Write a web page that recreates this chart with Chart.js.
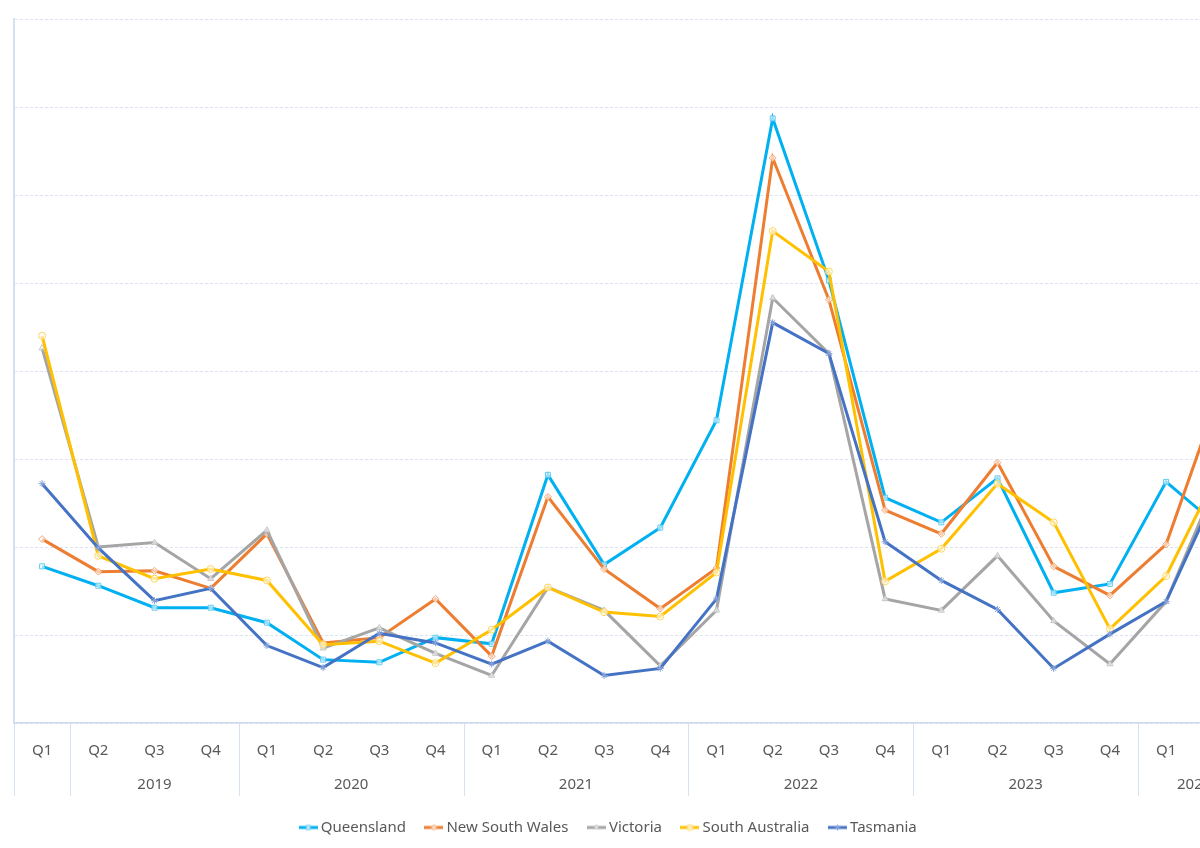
<!DOCTYPE html>
<html>
<head>
<meta charset="utf-8">
<script src="https://cdn.jsdelivr.net/npm/chart.js@4.4.1/dist/chart.umd.min.js"></script>
<style>
  html, body { margin: 0; padding: 0; background: #fff; overflow: hidden; }
  #wrap { width: 1206px; height: 848px; }
</style>
</head>
<body>
<div id="wrap"><canvas id="chart"></canvas></div>
<script>
const quarters = [
  'Q1', 'Q2', 'Q3', 'Q4', 'Q1', 'Q2', 'Q3', 'Q4', 'Q1', 'Q2', 'Q3',
  'Q4', 'Q1', 'Q2', 'Q3', 'Q4', 'Q1', 'Q2', 'Q3', 'Q4', 'Q1', 'Q2',
];
const yearLabels = ['', '2019', '2020', '2021', '2022', '2023', '2024'];
const yearFirst = [0, 1, 4, 8, 12, 16, 20];
const yearLast = [0, 3, 7, 11, 15, 19, 21];

const queensland = [1.78, 1.56, 1.31, 1.31, 1.14, 0.72, 0.69, 0.97, 0.9, 2.82, 1.8, 2.22, 3.44, 6.87, 5.03, 2.56, 2.28, 2.78, 1.48, 1.58, 2.74, 2.2];
const newSouthWales = [2.09, 1.72, 1.73, 1.53, 2.15, 0.91, 0.97, 1.41, 0.76, 2.57, 1.75, 1.3, 1.76, 6.42, 4.81, 2.42, 2.15, 2.96, 1.78, 1.45, 2.03, 3.85];
const victoria = [4.26, 2.0, 2.05, 1.64, 2.19, 0.85, 1.08, 0.79, 0.54, 1.54, 1.28, 0.65, 1.28, 4.83, 4.2, 1.41, 1.28, 1.9, 1.16, 0.67, 1.38, 2.89];
const southAustralia = [4.4, 1.9, 1.64, 1.75, 1.62, 0.89, 0.93, 0.68, 1.06, 1.54, 1.26, 1.21, 1.71, 5.59, 5.13, 1.61, 1.98, 2.72, 2.28, 1.07, 1.67, 2.95];
const tasmania = [2.72, 1.99, 1.39, 1.53, 0.88, 0.63, 1.02, 0.91, 0.67, 0.93, 0.54, 0.62, 1.41, 4.55, 4.2, 2.06, 1.62, 1.29, 0.62, 1.01, 1.38, 2.77];

const seriesNames = ['Queensland', 'New South Wales', 'Victoria', 'South Australia', 'Tasmania'];
const seriesData = [queensland, newSouthWales, victoria, southAustralia, tasmania];
const seriesColors = ['#00b0f0', '#ed7d31', '#a5a5a5', '#ffc000', '#4472c4'];
const markerColors = ['#5fcaf3', '#f3a674', '#c4c4c4', '#ffd45c', '#8aa5db'];
const markerStyles = ['rect', 'rectRot', 'triangle', 'circle', 'star'];

const FONT = '"Noto Sans", "Open Sans", sans-serif';
const TEXT = '#595959';
const AXIS = '#d4e1f2';
const STEP = 56.2; // pixel width of one quarter, the plot runs past the right edge

function legendIcon(i) {
  const c = document.createElement('canvas');
  c.width = 19;
  c.height = 12;
  const g = c.getContext('2d');
  g.strokeStyle = seriesColors[i];
  g.lineWidth = 3;
  g.beginPath();
  g.moveTo(0, 6);
  g.lineTo(19, 6);
  g.stroke();
  g.fillStyle = 'rgba(255,255,255,0.7)';
  g.strokeStyle = markerColors[i];
  g.lineWidth = 1;
  Chart.helpers.drawPoint(g, { pointStyle: markerStyles[i], radius: 3, borderWidth: 1, rotation: 0 }, 9.5, 6);
  return c;
}
const icons = seriesNames.map((_, i) => legendIcon(i));

// year row under the quarter labels, with separators between the years
const yearRow = {
  id: 'yearRow',
  afterDraw(chart) {
    const xs = chart.scales.x;
    const ctx = chart.ctx;
    const top = xs.top;
    ctx.save();
    ctx.strokeStyle = AXIS;
    ctx.lineWidth = 1;
    yearFirst.forEach((f) => {
      const px = Math.round(xs.getPixelForValue(f - 0.5)) + 0.5;
      ctx.beginPath();
      ctx.moveTo(px, top);
      ctx.lineTo(px, top + 73);
      ctx.stroke();
    });
    ctx.fillStyle = TEXT;
    ctx.font = '15px ' + FONT;
    ctx.textAlign = 'center';
    ctx.textBaseline = 'middle';
    yearLabels.forEach((label, k) => {
      const px = xs.getPixelForValue((yearFirst[k] + yearLast[k]) / 2);
      ctx.fillText(label, px, top + 62);
    });
    ctx.restore();
  },
};

new Chart(document.getElementById('chart'), {
  type: 'line',
  data: {
    datasets: seriesNames.map((name, i) => ({
      label: name,
      data: seriesData[i].map((v, k) => ({ x: k, y: v })),
      borderColor: seriesColors[i],
      backgroundColor: seriesColors[i],
      borderWidth: 3,
      pointStyle: markerStyles[i],
      pointRadius: 3.5,
      pointBorderWidth: 1,
      pointBorderColor: markerColors[i],
      pointBackgroundColor: 'rgba(255,255,255,0.6)',
      tension: 0,
      order: seriesNames.length - i,
    })),
  },
  options: {
    responsive: true,
    maintainAspectRatio: false,
    animation: false,
    layout: { padding: { top: 19, left: 14, right: 0, bottom: 3 } },
    scales: {
      x: {
        type: 'linear',
        bounds: 'data',
        min: -0.5,
        grid: { display: false, drawTicks: false },
        border: { display: true, color: '#c9daf0', width: 1.5 },
        afterDataLimits: (scale) => {
          scale.max = scale.min + scale.width / STEP;
        },
        afterBuildTicks: (scale) => {
          scale.ticks = quarters.map((_, i) => ({ value: i })).filter((t) => t.value <= scale.max);
        },
        afterFit: (scale) => {
          scale.height = 74;
          scale.paddingLeft = 0;
          scale.paddingRight = 0;
        },
        ticks: {
          autoSkip: false,
          maxRotation: 0,
          padding: 19,
          color: TEXT,
          font: { family: FONT, size: 15 },
          callback: (v) => quarters[v],
        },
      },
      y: {
        min: 0,
        max: 8,
        ticks: { display: false, stepSize: 1 },
        grid: { color: '#dbe5f2', lineWidth: 1, drawTicks: false },
        border: { display: true, color: AXIS, width: 2, dash: [3, 2] },
      },
    },
    plugins: {
      tooltip: { enabled: false },
      legend: {
        position: 'bottom',
        labels: {
          usePointStyle: true,
          pointStyleWidth: 10,
          padding: 23,
          color: TEXT,
          font: { family: FONT, size: 15 },
          generateLabels: (chart) => chart.data.datasets.map((ds, i) => ({
            text: ds.label,
            pointStyle: icons[i],
            fillStyle: seriesColors[i],
            strokeStyle: seriesColors[i],
            lineWidth: 0,
            hidden: false,
            datasetIndex: i,
            fontColor: TEXT,
          })),
        },
      },
    },
  },
  plugins: [yearRow],
});
</script>
</body>
</html>
